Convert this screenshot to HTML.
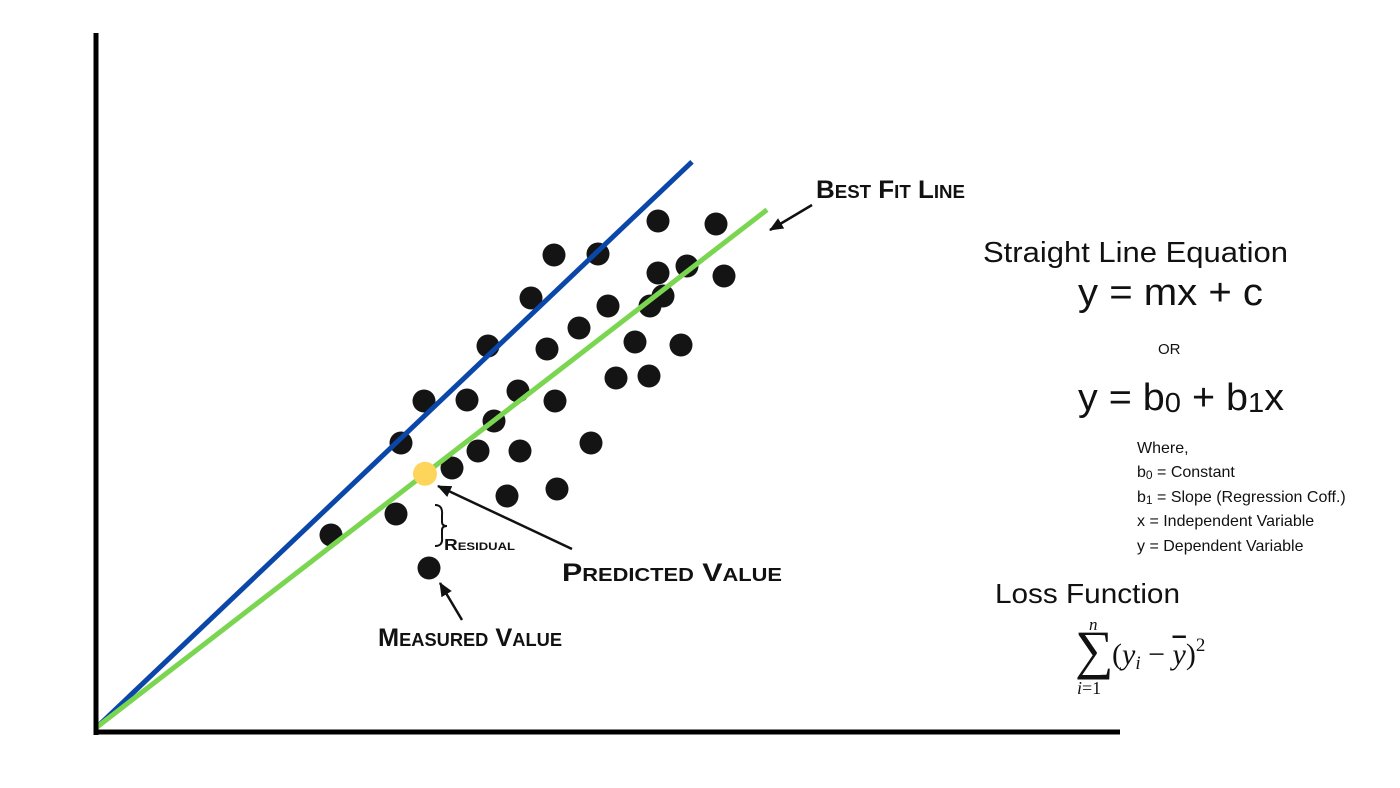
<!DOCTYPE html>
<html><head><meta charset="utf-8"><style>
body{margin:0;background:#fff;width:1400px;height:788px;overflow:hidden}
svg{display:block}
.hand{font-family:"Liberation Sans",sans-serif;font-weight:bold;font-variant:small-caps;fill:#111}
.eq{font-family:"Liberation Sans",sans-serif;fill:#111}
.ser{font-family:"Liberation Serif",serif;fill:#111}
</style></head><body>
<svg id="chart" width="1400" height="788" viewBox="0 0 1400 788">
<defs><marker id="ah" markerUnits="userSpaceOnUse" markerWidth="14" markerHeight="12" refX="13" refY="6" orient="auto"><path d="M0,0 L14,6 L0,12 z" fill="#111"/></marker></defs>
<g id="marks"></g>
<line x1="96" y1="33" x2="96" y2="735" stroke="#000" stroke-width="5"/>
<line x1="94" y1="732" x2="1120" y2="732" stroke="#000" stroke-width="5"/>
<text class="hand" x="816" y="198" font-size="25" textLength="149" lengthAdjust="spacingAndGlyphs">Best Fit Line</text>
<line x1="812" y1="205" x2="770" y2="230" stroke="#111" stroke-width="2.5" marker-end="url(#ah)"/>
<path d="M435,505 Q443,505 442,515 L442,522 Q442,526 447,526 Q442,526 442,530 L442,538 Q443,546 435,546" fill="none" stroke="#111" stroke-width="2"/>
<text class="hand" x="444" y="550" font-size="16" textLength="71" lengthAdjust="spacingAndGlyphs">Residual</text>
<line x1="572" y1="549" x2="438" y2="486" stroke="#111" stroke-width="2.5" marker-end="url(#ah)"/>
<text class="hand" x="562" y="581" font-size="25" textLength="220" lengthAdjust="spacingAndGlyphs">Predicted Value</text>
<line x1="462" y1="620" x2="440" y2="583" stroke="#111" stroke-width="2.5" marker-end="url(#ah)"/>
<text class="hand" x="378" y="646" font-size="25" textLength="184" lengthAdjust="spacingAndGlyphs">Measured Value</text>
<text class="eq" x="983" y="262" font-size="29" textLength="305" lengthAdjust="spacingAndGlyphs">Straight Line Equation</text>
<text class="eq" x="1078" y="305" font-size="38" textLength="185" lengthAdjust="spacingAndGlyphs">y = mx + c</text>
<text class="eq" x="1158" y="354" font-size="15">OR</text>
<text class="eq" x="1078" y="410" font-size="38" textLength="206" lengthAdjust="spacingAndGlyphs">y = b<tspan font-size="28" dy="2">0</tspan><tspan dy="-2"> + b</tspan><tspan font-size="28" dy="2">1</tspan><tspan dy="-2">x</tspan></text>
<g class="eq" font-size="16">
<text x="1137" y="453">Where,</text>
<text x="1137" y="477">b<tspan font-size="12" dy="2">0</tspan><tspan dy="-2"> = Constant</tspan></text>
<text x="1137" y="502">b<tspan font-size="12" dy="2">1</tspan><tspan dy="-2"> = Slope (Regression Coff.)</tspan></text>
<text x="1137" y="526">x = Independent Variable</text>
<text x="1137" y="551">y = Dependent Variable</text>
</g>
<text class="eq" x="995" y="603" font-size="28" textLength="185" lengthAdjust="spacingAndGlyphs">Loss Function</text>
<g class="ser">
<text x="1089" y="630" font-size="17" font-style="italic">n</text>
<text x="1075" y="668" font-size="54">∑</text>
<text x="1077" y="694" font-size="18"><tspan font-style="italic">i</tspan>=1</text>
<text x="1112" y="664" font-size="30">(<tspan font-style="italic">y</tspan><tspan font-size="19" font-style="italic" dy="5">i</tspan><tspan dy="-5"> − </tspan><tspan font-style="italic" text-decoration="overline">y</tspan>)<tspan font-size="19" dy="-13">2</tspan></text>
</g>
</svg>
<script>
const dotX=[56.1,61.9,45.7,50.1,56.1,59.0,62.7,43.4,51.1,56.6,55.3,48.2,39.1,45.0,53.8,58.4,32.7,37.0,42.1,45.8,51.9,55.2,39.7,30.4,38.1,42.3,49.4,35.5,41.0,46.0,29.9,23.4,33.2];
const dotY=[50.6,50.3,47.2,47.3,45.4,46.1,45.1,42.9,42.1,43.1,42.1,39.9,38.1,37.8,38.5,38.2,32.6,32.7,33.6,32.6,34.9,35.1,30.6,28.4,27.6,27.6,28.4,25.9,23.1,23.8,21.3,19.2,15.9];
const blueSlope=0.95, blueEnd=59.5;
const greenSlope=0.772, greenEnd=67.0;
const predictedX=[32.8];
const sx=v=>97+v*10, sy=v=>727-v*10;
const NS="http://www.w3.org/2000/svg", g=document.getElementById('marks');
dotX.forEach((x,i)=>{const c=document.createElementNS(NS,'circle');
c.setAttribute('cx',sx(x));c.setAttribute('cy',sy(dotY[i]));c.setAttribute('r',11.5);c.setAttribute('fill','#141414');


g.appendChild(c);});
function line(slope,end,color,name){const l=document.createElementNS(NS,'line');
l.setAttribute('x1',sx(0));l.setAttribute('y1',sy(0));l.setAttribute('x2',sx(end));l.setAttribute('y2',sy(slope*end));
l.setAttribute('stroke',color);l.setAttribute('stroke-width',5);


g.appendChild(l);}
line(blueSlope,blueEnd,'#0a47a8','blue-line');
line(greenSlope,greenEnd,'#7ad651','best-fit-line');
predictedX.forEach(x=>{const c=document.createElementNS(NS,'circle');
c.setAttribute('cx',sx(x));c.setAttribute('cy',sy(greenSlope*x));c.setAttribute('r',12);c.setAttribute('fill','#fcd55a');


g.appendChild(c);});
</script>
</body></html>
